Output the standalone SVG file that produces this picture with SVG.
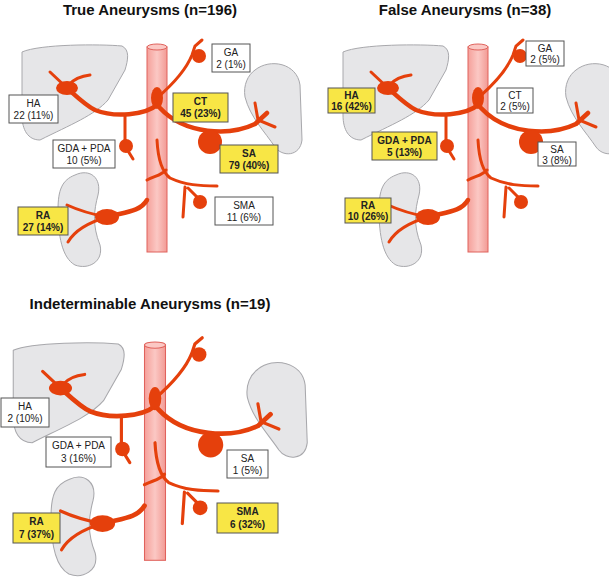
<svg xmlns="http://www.w3.org/2000/svg" width="609" height="584" viewBox="0 0 609 584">
<style>
.organ{fill:#e6e6e8;stroke:#a8a8ac;stroke-width:1}
.art{fill:none;stroke:#e5400c;stroke-width:4.5;stroke-linecap:round}
.thin{fill:none;stroke:#e5400c;stroke-width:3;stroke-linecap:round}
.an{fill:#e5400c}
.box{fill:#fff;stroke:#555;stroke-width:1}
.ybox{fill:#f8e645;stroke:#555;stroke-width:1}
.t{font-family:"Liberation Sans",Arial,sans-serif;font-size:10px;fill:#222;text-anchor:middle}
.b{font-weight:bold}
.title{font-family:"Liberation Sans",Arial,sans-serif;font-size:15px;font-weight:bold;fill:#111;text-anchor:middle}
</style>
<defs>
<linearGradient id="ao" x1="0" x2="1" y1="0" y2="0">
<stop offset="0" stop-color="#f5a09a"/><stop offset="0.5" stop-color="#fbc8c4"/><stop offset="1" stop-color="#f29a94"/>
</linearGradient>
<g id="base">
<path class="organ" d="M22,52 C40,44 100,44 122,46 C130,50 128,60 125,70 L108,100 C95,115 70,125 40,140 C28,140 22,130 22,115 Z"/>
<path class="organ" d="M255,70 C270,58 297,63 300,85 L302,140 C300,157 282,157 275,147 C265,132 250,117 245,97 C243,85 248,75 255,70 Z"/>
<path class="organ" d="M75,175 C90,168 102,178 98,195 C94,210 92,225 100,245 C104,262 88,270 75,265 C62,258 58,235 58,210 C58,190 62,180 75,175 Z"/>
<rect x="147" y="47" width="20" height="205" fill="url(#ao)" stroke="#e0625c" stroke-width="1"/>
<ellipse cx="157" cy="47" rx="10" ry="3" fill="#fbc8c4" stroke="#e0625c" stroke-width="1"/>
<path class="art" d="M157,105 C145,115 115,118 95,110 C85,105 75,95 67,88"/>
<path class="thin" d="M67,88 L50,72 M70,84 C75,78 82,76 90,75"/>
<ellipse class="an" cx="67" cy="88" rx="11" ry="7"/>
<path class="thin" d="M125,116 L125,146 L133,159"/>
<circle class="an" cx="126" cy="146" r="7"/>
<path class="thin" d="M157,98 C172,85 186,70 192,55 L195,46 L202,40"/>
<circle class="an" cx="199" cy="56" r="7"/>
<path class="art" d="M160,108 C185,135 230,136 255,124 L267,113"/>
<path class="thin" d="M255,103 L258,120 L275,127"/>
<circle class="an" cx="210" cy="142" r="12"/>
<path class="thin" d="M157,140 C158,160 162,172 170,178 C185,185 200,186 217,186 M147,180 C155,176 162,175 166,170 M185,187 L183,217 M188,188 L198,198"/>
<circle class="an" cx="200" cy="202" r="7"/>
<ellipse class="an" cx="157" cy="98" rx="6" ry="11"/>
<path class="art" d="M147,200 C140,212 125,212 107,217"/>
<path class="thin" d="M107,217 C90,214 78,210 67,205 M107,217 C90,222 75,230 68,242"/>
<ellipse class="an" cx="107" cy="217" rx="12" ry="8"/>
</g>
</defs>
<g id="panel-true">
<text class="title" x="150" y="15">True Aneurysms (n=196)</text>
<use href="#base"/>
<g id="n1-ga"><rect class="box" x="212" y="44" width="38" height="28"/><text class="t" x="231" y="56">GA</text><text class="t" x="231" y="68">2 (1%)</text></g>
<g id="n1-ha"><rect class="box" x="9" y="95" width="49" height="28"/><text class="t" x="33.5" y="107">HA</text><text class="t" x="33.5" y="119">22 (11%)</text></g>
<g id="n1-ct"><rect class="ybox" x="173" y="93" width="55" height="29"/><text class="t b" x="200.5" y="105">CT</text><text class="t b" x="200.5" y="117">45 (23%)</text></g>
<g id="n1-gda"><rect class="box" x="53" y="140" width="62" height="28"/><text class="t" x="84" y="152">GDA + PDA</text><text class="t" x="84" y="164">10 (5%)</text></g>
<g id="n1-sa"><rect class="ybox" x="220" y="145" width="58" height="28"/><text class="t b" x="249" y="157">SA</text><text class="t b" x="249" y="169">79 (40%)</text></g>
<g id="n1-sma"><rect class="box" x="215" y="197" width="58" height="28"/><text class="t" x="244" y="209">SMA</text><text class="t" x="244" y="221">11 (6%)</text></g>
<g id="n1-ra"><rect class="ybox" x="18" y="207" width="50" height="28"/><text class="t b" x="43" y="219">RA</text><text class="t b" x="43" y="231">27 (14%)</text></g>
</g>
<g id="panel-false">
<text class="title" x="465" y="15">False Aneurysms (n=38)</text>
<use href="#base" transform="translate(321,0)"/>
<g id="n2-ga"><rect class="box" x="526" y="41" width="38" height="25"/><text class="t" x="545" y="52">GA</text><text class="t" x="545" y="63">2 (5%)</text></g>
<g id="n2-ha"><rect class="ybox" x="328" y="88" width="47" height="25"/><text class="t b" x="351.5" y="99">HA</text><text class="t b" x="351.5" y="110">16 (42%)</text></g>
<g id="n2-ct"><rect class="box" x="497" y="88" width="36" height="25"/><text class="t" x="515" y="99">CT</text><text class="t" x="515" y="110">2 (5%)</text></g>
<g id="n2-gda"><rect class="ybox" x="372" y="132" width="65" height="28"/><text class="t b" x="404.5" y="144">GDA + PDA</text><text class="t b" x="404.5" y="156">5 (13%)</text></g>
<g id="n2-sa"><rect class="box" x="538" y="142" width="38" height="24"/><text class="t" x="557" y="153">SA</text><text class="t" x="557" y="164">3 (8%)</text></g>
<g id="n2-ra"><rect class="ybox" x="345" y="198" width="46" height="25"/><text class="t b" x="368" y="209">RA</text><text class="t b" x="368" y="220">10 (26%)</text></g>
</g>
<g id="panel-indet">
<text class="title" x="150" y="309">Indeterminable Aneurysms (n=19)</text>
<use href="#base" transform="translate(-9.85,295.7) scale(1.05)"/>
<g id="n3-ha"><rect class="box" x="1" y="398" width="48" height="29"/><text class="t" x="25" y="410">HA</text><text class="t" x="25" y="422">2 (10%)</text></g>
<g id="n3-gda"><rect class="box" x="46" y="437" width="65" height="30"/><text class="t" x="78.5" y="449">GDA + PDA</text><text class="t" x="78.5" y="462">3 (16%)</text></g>
<g id="n3-sa"><rect class="box" x="227" y="450" width="41" height="28"/><text class="t" x="247.5" y="462">SA</text><text class="t" x="247.5" y="474">1 (5%)</text></g>
<g id="n3-sma"><rect class="ybox" x="217" y="503" width="61" height="30"/><text class="t b" x="247.5" y="515">SMA</text><text class="t b" x="247.5" y="528">6 (32%)</text></g>
<g id="n3-ra"><rect class="ybox" x="13" y="513" width="47" height="30"/><text class="t b" x="36.5" y="525">RA</text><text class="t b" x="36.5" y="538">7 (37%)</text></g>
</g>
</svg>
